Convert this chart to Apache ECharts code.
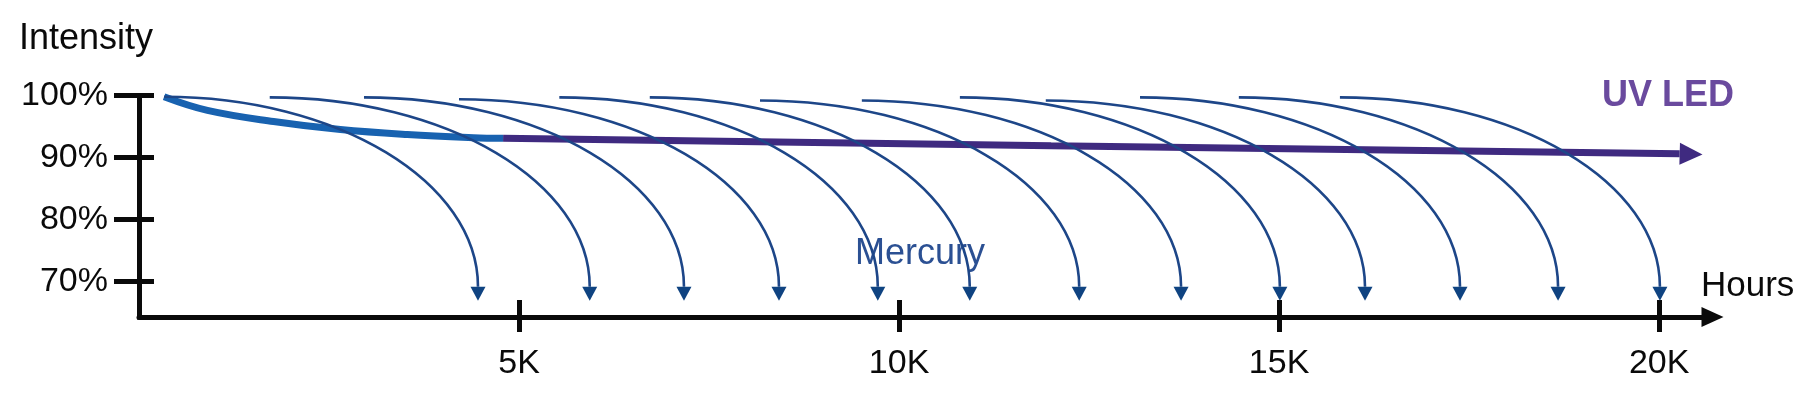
<!DOCTYPE html>
<html><head><meta charset="utf-8">
<script src="https://cdn.jsdelivr.net/npm/echarts@6/dist/echarts.min.js"></script>
<style>html,body{margin:0;padding:0;background:#fff}#c{width:1815px;height:400px}</style>
</head><body><div id="c"></div>
<script>
// ---- data ----
const xTickValues = [5000, 10000, 15000, 20000];
const xTickLabels = ['5K', '10K', '15K', '20K'];
const yTickValues = [70, 80, 90, 100];
const yTickLabels = ['70%', '80%', '90%', '100%'];

// UV LED: fast initial drop (blue), then slow linear decline (purple)
const ledEarlyHours = [330, 900, 1770, 2650, 3530, 4400, 4790];
const ledEarlyIntensity = [99.8, 97.6, 95.8, 94.5, 93.7, 93.2, 93.1];
const ledLateHours = [4790, 12000, 20270];
const ledLateIntensity = [93.1, 91.9, 90.6];
const ledArrowTip = [20570, 90.5];

// Mercury lamp replacement cycles: start (hours, %) -> arrow tip (hours, %)
const mercuryStartHours = [330, 1720, 2960, 4210, 5530, 6720, 8170, 9510, 10800, 11930, 13170, 14470, 15800];
const mercuryStartIntensity = [99.8, 99.7, 99.7, 99.4, 99.7, 99.7, 99.2, 99.2, 99.7, 99.2, 99.7, 99.7, 99.7];
const mercuryEndHours = [4460, 5930, 7170, 8420, 9720, 10930, 12370, 13710, 15010, 16130, 17380, 18670, 20010];
const mercuryEndIntensity = [66.9, 66.9, 66.9, 66.9, 66.9, 66.9, 66.9, 66.9, 66.9, 66.9, 66.9, 66.9, 66.9];

// ---- chart ----
const FONT = 'Liberation Sans, Arial, sans-serif';
const AXIS = '#0a0a0a';
const X_MIN = 0, X_MAX = 20590, Y_MIN = 64.27, Y_MAX = 100;

const ledEarly = ledEarlyHours.map((h, i) => [h, ledEarlyIntensity[i]]);
const ledLate = ledLateHours.map((h, i) => [h, ledLateIntensity[i]]);
const mercury = mercuryStartHours.map((h, i) => [h, mercuryStartIntensity[i], mercuryEndHours[i], mercuryEndIntensity[i]]);
const ledArrow = [[ledLateHours[ledLateHours.length - 1], ledLateIntensity[ledLateIntensity.length - 1], ledArrowTip[0], ledArrowTip[1]]];

const chart = echarts.init(document.getElementById('c'), null, {renderer: 'canvas'});
chart.setOption({
  animation: false,
  backgroundColor: '#fff',
  grid: {left: 139, right: 111, top: 95.5, bottom: 83, containLabel: false},
  xAxis: [{
    type: 'value', min: X_MIN, max: X_MAX,
    axisLine: {show: true, lineStyle: {color: AXIS, width: 5}, symbol: ['none', 'triangle'], symbolSize: [20, 22], symbolOffset: [0, 8.5]},
    axisTick: {show: true, customValues: xTickValues, length: 15, lineStyle: {color: AXIS, width: 5}},
    axisLabel: {show: true, customValues: xTickValues, margin: 30, fontSize: 34, color: '#0a0a0a', fontFamily: FONT,
      formatter: v => xTickLabels[xTickValues.indexOf(v)] || ''},
    splitLine: {show: false}
  }, {
    type: 'value', min: X_MIN, max: X_MAX, position: 'bottom',
    axisLine: {show: false},
    axisTick: {show: true, inside: true, customValues: xTickValues, length: 17, lineStyle: {color: AXIS, width: 5}},
    axisLabel: {show: false}, splitLine: {show: false}
  }],
  yAxis: [{
    type: 'value', min: Y_MIN, max: Y_MAX,
    axisLine: {show: true, lineStyle: {color: AXIS, width: 5, cap: 'square'}},
    axisTick: {show: true, customValues: yTickValues, length: 25, lineStyle: {color: AXIS, width: 5}},
    axisLabel: {show: true, customValues: yTickValues, margin: 31, fontSize: 34, color: '#0a0a0a', fontFamily: FONT,
      formatter: v => yTickLabels[yTickValues.indexOf(v)] || ''},
    splitLine: {show: false}
  }, {
    type: 'value', min: Y_MIN, max: Y_MAX, position: 'left',
    axisLine: {show: false},
    axisTick: {show: true, inside: true, customValues: yTickValues, length: 15, lineStyle: {color: AXIS, width: 5}},
    axisLabel: {show: false}, splitLine: {show: false}
  }],
  graphic: [
    {type: 'text', z: 1, style: {x: 19, y: 39, text: 'Intensity', font: '36px ' + FONT, fill: '#0a0a0a', textVerticalAlign: 'middle'}},
    {type: 'text', z: 1, style: {x: 1701, y: 286, text: 'Hours', font: '35px ' + FONT, fill: '#0a0a0a', textVerticalAlign: 'middle'}},
    {type: 'text', z: 1, style: {x: 1602, y: 96, text: 'UV LED', font: 'bold 36px ' + FONT, fill: '#6a4a9e', textVerticalAlign: 'middle'}},
    {type: 'text', z: 1, style: {x: 855, y: 254, text: 'Mercury', font: '36px ' + FONT, fill: '#2b5093', textVerticalAlign: 'middle'}}
  ],
  series: [
    {type: 'line', name: 'UV LED early', data: ledEarly, smooth: 0.4, showSymbol: false, symbol: 'none', z: 2,
      lineStyle: {color: '#1862b0', width: 7, cap: 'butt'}},
    {type: 'line', name: 'UV LED', data: ledLate, smooth: false, showSymbol: false, symbol: 'none', z: 2,
      lineStyle: {color: '#3f2a80', width: 7, cap: 'butt'}},
    {type: 'custom', name: 'UV LED arrow', data: ledArrow, z: 2,
      renderItem(params, api) {
        const b = api.coord([api.value(0), api.value(1)]);
        const t = api.coord([api.value(2), api.value(3)]);
        const dx = t[0] - b[0], dy = t[1] - b[1];
        const len = Math.hypot(dx, dy) || 1;
        const nx = -dy / len * 11, ny = dx / len * 11;
        return {type: 'polygon', shape: {points: [[b[0] + nx, b[1] + ny], [b[0] - nx, b[1] - ny], t]},
          style: {fill: '#3f2a80'}};
      }},
    {type: 'custom', name: 'Mercury', data: mercury, z: 3,
      renderItem(params, api) {
        const s = api.coord([api.value(0), api.value(1)]);
        const t = api.coord([api.value(2), api.value(3)]);
        const head = 14, hw = 7.5, k = 0.5523;
        const e = [t[0], t[1] - head];
        return {type: 'group', children: [
          {type: 'bezierCurve', shape: {x1: s[0], y1: s[1], x2: e[0], y2: e[1],
            cpx1: s[0] + k * (e[0] - s[0]), cpy1: s[1], cpx2: e[0], cpy2: e[1] - k * (e[1] - s[1])},
            style: {stroke: '#1d4688', lineWidth: 2.6, fill: null}},
          {type: 'polygon', shape: {points: [[t[0] - hw, e[1]], [t[0] + hw, e[1]], [t[0], t[1]]]},
            style: {fill: '#0f4381'}}
        ]};
      }}
  ]
});
</script></body></html>
